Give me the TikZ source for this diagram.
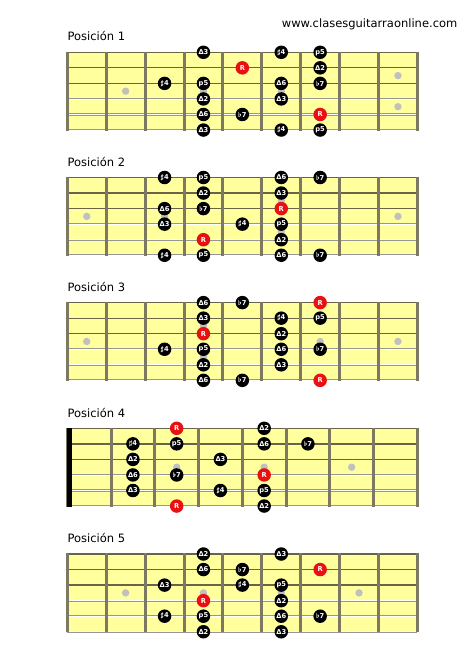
\documentclass[tikz,border=0pt]{standalone}
\usepackage{fontspec}
\setmainfont{DejaVu Sans}
\usepackage{tikz}
\usepackage{amsmath,amssymb,bm}
\usetikzlibrary{positioning}
\definecolor{mastil}{RGB}{255,255,158}
\definecolor{traste}{RGB}{125,120,98}
\definecolor{cuerda}{RGB}{105,100,72}
\definecolor{entorchada}{RGB}{150,150,150}
\definecolor{marca}{RGB}{192,192,192}
\definecolor{rojo}{RGB}{232,16,16}
\newcommand{\sost}{$\boldsymbol{\sharp}$}
\newcommand{\bemol}{$\boldsymbol{\flat}$}
\tikzstyle{nota} = [circle,fill=black,text=white,inner sep=0pt,minimum size=13.5pt,font=\fontsize{6.7}{6}\selectfont\bfseries]
\tikzstyle{tonica} = [nota,fill=rojo]
\tikzstyle{titulo} = [anchor=base west,inner sep=0pt,font=\fontsize{11.5}{13}\selectfont]
\tikzstyle{punto} = [marca]
% fret board: #1 = number of fret spaces
\newcommand{\mastil}[1]{%
  \fill[mastil] (0,0) rectangle (#1,5);
  \foreach \c in {0,1,2} \draw[cuerda,line width=1.3pt] (0,\c) -- (#1,\c);
  \foreach \c in {3,4,5} {
    \draw[entorchada,line width=2.2pt] (0,\c) -- (#1,\c);
    \draw[white,line width=0.7pt] (0,\c) -- (#1,\c);
  }
  \foreach \t in {0,...,#1} \draw[traste,line width=3pt] (\t,-0.04) -- (\t,5.04);
}

\begin{document}
\begin{tikzpicture}[x=1pt,y=-1pt]
\useasboundingbox (0,0) rectangle (474,671);
\node[titulo] (web) at (281.7,27.3) {www.clasesguitarraonline.com};

% Posicion 1
\node[titulo] (t1) at (67.3,41) {Posición 1};
\begin{scope}[shift={(67.3,52.3)},x=38.9pt,y=-15.55pt]
  \mastil{9}
  \foreach \e in {1,3,5} \fill[punto] (\e+0.5,2.5) circle (3.7pt);
  \fill[punto] (8.5,1.5) circle (3.7pt) (8.5,3.5) circle (3.7pt);
  \foreach \c/\t/\n in {1/3/Δ3,1/5/\sost4,1/6/p5,2/6/Δ2,3/2/\sost4,3/3/p5,3/5/Δ6,3/6/\bemol7,
      4/3/Δ2,4/5/Δ3,5/3/Δ6,5/4/\bemol7,6/3/Δ3,6/5/\sost4,6/6/p5}
    \node[nota] (p1-\c-\t) at (\t+0.5,\c-1) {\n};
  \foreach \c/\t in {2/4,5/6}
    \node[tonica] (p1-\c-\t) at (\t+0.5,\c-1) {R};
\end{scope}

% Posicion 2
\node[titulo] (t2) at (67.3,166.2) {Posición 2};
\begin{scope}[shift={(67.3,177.5)},x=38.9pt,y=-15.55pt]
  \mastil{9}
  \foreach \e in {0,2,8} \fill[punto] (\e+0.5,2.5) circle (3.7pt);
  \fill[punto] (5.5,1.5) circle (3.7pt) (5.5,3.5) circle (3.7pt);
  \foreach \c/\t/\n in {1/2/\sost4,1/3/p5,1/5/Δ6,1/6/\bemol7,2/3/Δ2,2/5/Δ3,3/2/Δ6,3/3/\bemol7,
      4/2/Δ3,4/4/\sost4,4/5/p5,5/5/Δ2,6/2/\sost4,6/3/p5,6/5/Δ6,6/6/\bemol7}
    \node[nota] (p2-\c-\t) at (\t+0.5,\c-1) {\n};
  \foreach \c/\t in {3/5,5/3}
    \node[tonica] (p2-\c-\t) at (\t+0.5,\c-1) {R};
\end{scope}

% Posicion 3
\node[titulo] (t3) at (67.3,291.3) {Posición 3};
\begin{scope}[shift={(67.3,302.6)},x=38.9pt,y=-15.55pt]
  \mastil{9}
  \foreach \e in {0,6,8} \fill[punto] (\e+0.5,2.5) circle (3.7pt);
  \fill[punto] (3.5,1.5) circle (3.7pt) (3.5,3.5) circle (3.7pt);
  \foreach \c/\t/\n in {1/3/Δ6,1/4/\bemol7,2/3/Δ3,2/5/\sost4,2/6/p5,3/5/Δ2,4/2/\sost4,4/3/p5,
      4/5/Δ6,4/6/\bemol7,5/3/Δ2,5/5/Δ3,6/3/Δ6,6/4/\bemol7}
    \node[nota] (p3-\c-\t) at (\t+0.5,\c-1) {\n};
  \foreach \c/\t in {1/6,3/3,6/6}
    \node[tonica] (p3-\c-\t) at (\t+0.5,\c-1) {R};
\end{scope}

% Posicion 4
\node[titulo] (t4) at (67.3,417) {Posición 4};
\begin{scope}[shift={(67.3,428.3)},x=43.75pt,y=-15.55pt]
  \mastil{8}
  \fill[black] (0,-0.04) rectangle (0.1,5.04);
  \foreach \e in {2,4,6} \fill[punto] (\e+0.5,2.5) circle (3.7pt);
  \foreach \c/\t/\n in {1/4/Δ2,2/1/\sost4,2/2/p5,2/4/Δ6,2/5/\bemol7,3/1/Δ2,3/3/Δ3,4/1/Δ6,
      4/2/\bemol7,5/1/Δ3,5/3/\sost4,5/4/p5,6/4/Δ2}
    \node[nota] (p4-\c-\t) at (\t+0.5,\c-1) {\n};
  \foreach \c/\t in {1/2,4/4,6/2}
    \node[tonica] (p4-\c-\t) at (\t+0.5,\c-1) {R};
\end{scope}

% Posicion 5
\node[titulo] (t5) at (67.3,542.7) {Posición 5};
\begin{scope}[shift={(67.3,554)},x=38.9pt,y=-15.55pt]
  \mastil{9}
  \foreach \e in {1,3,5,7} \fill[punto] (\e+0.5,2.5) circle (3.7pt);
  \foreach \c/\t/\n in {1/3/Δ2,1/5/Δ3,2/3/Δ6,2/4/\bemol7,3/2/Δ3,3/4/\sost4,3/5/p5,4/5/Δ2,
      5/2/\sost4,5/3/p5,5/5/Δ6,5/6/\bemol7,6/3/Δ2,6/5/Δ3}
    \node[nota] (p5-\c-\t) at (\t+0.5,\c-1) {\n};
  \foreach \c/\t in {2/6,4/3}
    \node[tonica] (p5-\c-\t) at (\t+0.5,\c-1) {R};
\end{scope}
\end{tikzpicture}
\end{document}
